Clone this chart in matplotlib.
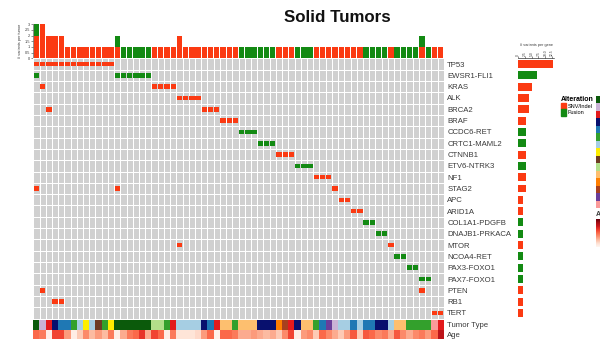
import matplotlib
matplotlib.use("Agg")
import matplotlib.pyplot as plt
import numpy as np
from matplotlib.colors import ListedColormap
from matplotlib.patches import Patch

plt.rcParams["font.family"] = ["Liberation Sans", "DejaVu Sans"]

N_SAMPLES = 66

genes = ["TP53", "EWSR1-FLI1", "KRAS", "ALK", "BRCA2", "BRAF", "CCDC6-RET",
         "CRTC1-MAML2", "CTNNB1", "ETV6-NTRK3", "NF1", "STAG2", "APC", "ARID1A",
         "COL1A1-PDGFB", "DNAJB1-PRKACA", "MTOR", "NCOA4-RET", "PAX3-FOXO1",
         "PAX7-FOXO1", "PTEN", "RB1", "TERT"]
gene_type = ["SNV", "Fusion", "SNV", "SNV", "SNV", "SNV", "Fusion",
             "Fusion", "SNV", "Fusion", "SNV", "SNV", "SNV", "SNV",
             "Fusion", "Fusion", "SNV", "Fusion", "Fusion",
             "Fusion", "SNV", "SNV", "SNV"]
# altered samples (1-based column index) per gene
gene_samples = [
    [1, 2, 3, 4, 5, 6, 7, 8, 9, 10, 11, 12, 13],
    [1, 14, 15, 16, 17, 18, 19],
    [2, 20, 21, 22, 23],
    [24, 25, 26, 27],
    [3, 28, 29, 30],
    [31, 32, 33],
    [34, 35, 36],
    [37, 38, 39],
    [40, 41, 42],
    [43, 44, 45],
    [46, 47, 48],
    [1, 14, 49],
    [50, 51],
    [52, 53],
    [54, 55],
    [56, 57],
    [24, 58],
    [59, 60],
    [61, 62],
    [63, 64],
    [2, 63],
    [4, 5],
    [65, 66],
]

tumor_palette = {
    "T01": "#0b5a0b", "T02": "#cab2d6", "T03": "#e31a1c", "T04": "#08106e",
    "T05": "#1f78b4", "T06": "#33a02c", "T07": "#a6cee3", "T08": "#ffee00",
    "T09": "#6e3b23", "T10": "#b2df8a", "T11": "#fdbf6f", "T12": "#ff7f00",
    "T13": "#a8401e", "T14": "#6a3d9a", "T15": "#fb9a99",
}
tumor_type = ["T01", "T02", "T03", "T04", "T05", "T05", "T06", "T07", "T08", "T07",
              "T09", "T06", "T08", "T01", "T01", "T01", "T01", "T01", "T01", "T10",
              "T10", "T06", "T03", "T07", "T07", "T07", "T07", "T04", "T05", "T03",
              "T11", "T11", "T06", "T11", "T11", "T11", "T04", "T04", "T04", "T12",
              "T13", "T03", "T04", "T11", "T11", "T06", "T05", "T14", "T02", "T07",
              "T07", "T05", "T07", "T05", "T05", "T04", "T04", "T07", "T11", "T11",
              "T06", "T06", "T06", "T06", "T15", "T03"]
age = [10, 9, 1, 12, 12, 7, 1, 4, 8, 5, 7, 5, 9, 1, 6, 9, 10, 13, 6, 12,
       10, 1, 9, 2, 2, 2, 3, 7, 10, 0.5, 10, 10, 9, 6, 6, 7, 6, 5, 6, 4,
       8, 12, 1, 7, 8, 4, 10, 8, 6, 4, 7, 11, 4, 11, 10, 8, 9, 6, 11, 8,
       6, 8, 9, 7, 10, 16]
AGE_MAX = 20

RED = "#fb3a12"
GREEN = "#138a13"
GRAY = "#d0d0d0"
INK = "#3a3a3a"
COLORS = {"SNV": RED, "Fusion": GREEN}

samples = np.arange(1, N_SAMPLES + 1)
snv_count = np.zeros(N_SAMPLES)
fus_count = np.zeros(N_SAMPLES)
for t, s in zip(gene_type, gene_samples):
    target = snv_count if t == "SNV" else fus_count
    for c in s:
        target[c - 1] += 1

W, H = 600, 352


def box(x0, y0, x1, y1):
    return [x0 / W, 1 - y1 / H, (x1 - x0) / W, (y1 - y0) / H]


fig = plt.figure(figsize=(6, 3.52), dpi=100)
ax_top = fig.add_axes(box(33.3, 24.3, 443.8, 58.2))
ax = fig.add_axes(box(33.3, 58.4, 443.8, 318.6))
ax_ann = fig.add_axes(box(33.3, 320, 443.8, 339.4))
ax_gene = fig.add_axes(box(518, 58.4, 554, 318.6))

# main grid
ng = len(genes)
ax.pcolormesh(np.arange(0.5, N_SAMPLES + 1), np.arange(-0.5, ng), np.zeros((ng, N_SAMPLES)),
              cmap=ListedColormap([GRAY]), edgecolors="white", linewidth=0.65)
for i, (t, s) in enumerate(zip(gene_type, gene_samples)):
    ax.bar(s, 0.4, bottom=i - 0.2, width=0.86, color=COLORS[t], linewidth=0)
ax.set_xlim(0.5, N_SAMPLES + 0.5)
ax.set_ylim(ng - 0.5, -0.5)
ax.set_xticks([])
ax.set_yticks(range(ng))
ax.set_yticklabels(genes, fontsize=5.6, color=INK)
ax.yaxis.tick_right()
ax.tick_params(length=0, pad=2.5)
for sp in ax.spines.values():
    sp.set_visible(False)

# top bar: variants per tumor
ax_top.bar(samples, snv_count, width=0.86, color=RED, linewidth=0)
ax_top.bar(samples, fus_count, bottom=snv_count, width=0.86, color=GREEN, linewidth=0)
ax_top.set_xlim(0.5, N_SAMPLES + 0.5)
ax_top.set_ylim(0, 3)
ax_top.set_xticks([])
ax_top.set_yticks([0, 0.5, 1, 1.5, 2, 2.5, 3])
ax_top.set_yticklabels(["0", "0.5", "1", "1.5", "2", "2.5", "3"], fontsize=2.8, color=INK)
ax_top.tick_params(axis="y", length=1.5, width=0.4, pad=1, colors=INK)
ax_top.set_ylabel("# variants per tumor", fontsize=2.8, color=INK, labelpad=2)
for k in ("top", "right", "bottom"):
    ax_top.spines[k].set_visible(False)
ax_top.spines["left"].set_linewidth(0.4)
ax_top.spines["left"].set_color(INK)

# annotation tracks
ax_ann.bar(samples, 1, bottom=0, width=1.02, linewidth=0,
           color=[tumor_palette[t] for t in tumor_type])
ax_ann.bar(samples, 1, bottom=1, width=1.02, linewidth=0,
           color=plt.cm.Reds(np.array(age) / AGE_MAX))
ax_ann.set_xlim(0.5, N_SAMPLES + 0.5)
ax_ann.set_ylim(2, 0)
ax_ann.set_xticks([])
ax_ann.set_yticks([0.5, 1.5])
ax_ann.set_yticklabels(["Tumor Type", "Age"], fontsize=5.6, color=INK)
ax_ann.yaxis.tick_right()
ax_ann.tick_params(length=0, pad=2.5)
for sp in ax_ann.spines.values():
    sp.set_visible(False)

# right bar: variants per gene
gene_counts = [len(s) for s in gene_samples]
ax_gene.barh(range(ng), gene_counts, height=0.7, linewidth=0,
             color=[COLORS[t] for t in gene_type])
ax_gene.set_ylim(ng - 0.5, -0.5)
ax_gene.set_xlim(0, 13.2)
ax_gene.set_yticks([])
ax_gene.xaxis.tick_top()
ax_gene.xaxis.set_label_position("top")
ax_gene.set_xticks([0, 2.5, 5, 7.5, 10, 12.5])
ax_gene.set_xticklabels(["0", "2.5", "5.0", "7.5", "10.0", "12.5"], fontsize=2.4,
                        rotation=90, color=INK)
ax_gene.tick_params(axis="x", length=1.2, width=0.4, pad=0.8, colors=INK)
ax_gene.set_xlabel("# variants per gene", fontsize=2.8, color=INK, labelpad=2)
for k in ("bottom", "right", "left"):
    ax_gene.spines[k].set_visible(False)
ax_gene.spines["top"].set_linewidth(0.4)

fig.text(337 / W, 1 - 18 / H, "Solid Tumors", fontsize=12.2, fontweight="bold",
         ha="center", va="center", color="#111111")

leg = fig.legend(handles=[Patch(color=RED, label="SNV/Indel"), Patch(color=GREEN, label="Fusion")],
                 title="Alteration", loc="upper left", bbox_to_anchor=(557 / W, 1 - 92 / H),
                 frameon=False, fontsize=4.0, title_fontsize=5, handlelength=1.0,
                 handleheight=1.3, handletextpad=0.2, labelspacing=0.05, borderpad=0.2,
                 alignment="left")
leg.get_title().set_fontweight("bold")

# clipped tumor-type / age legend at right edge
ax_edge = fig.add_axes(box(596, 96, 610, 208))
keys = list(tumor_palette)
ax_edge.bar(0.5, 1, bottom=np.arange(len(keys)), width=1, linewidth=0,
            color=[tumor_palette[k] for k in keys])
ax_edge.set_xlim(0, 1)
ax_edge.set_ylim(len(keys), 0)
ax_edge.axis("off")
fig.text(596 / W, 1 - 214 / H, "Age", fontsize=5, fontweight="bold", va="center", color=INK)
ax_age = fig.add_axes(box(596, 219, 610, 247))
ax_age.imshow(np.linspace(1, 0, 50)[:, None], cmap="Reds", aspect="auto")
ax_age.axis("off")

fig.savefig("out.png", dpi=100)
